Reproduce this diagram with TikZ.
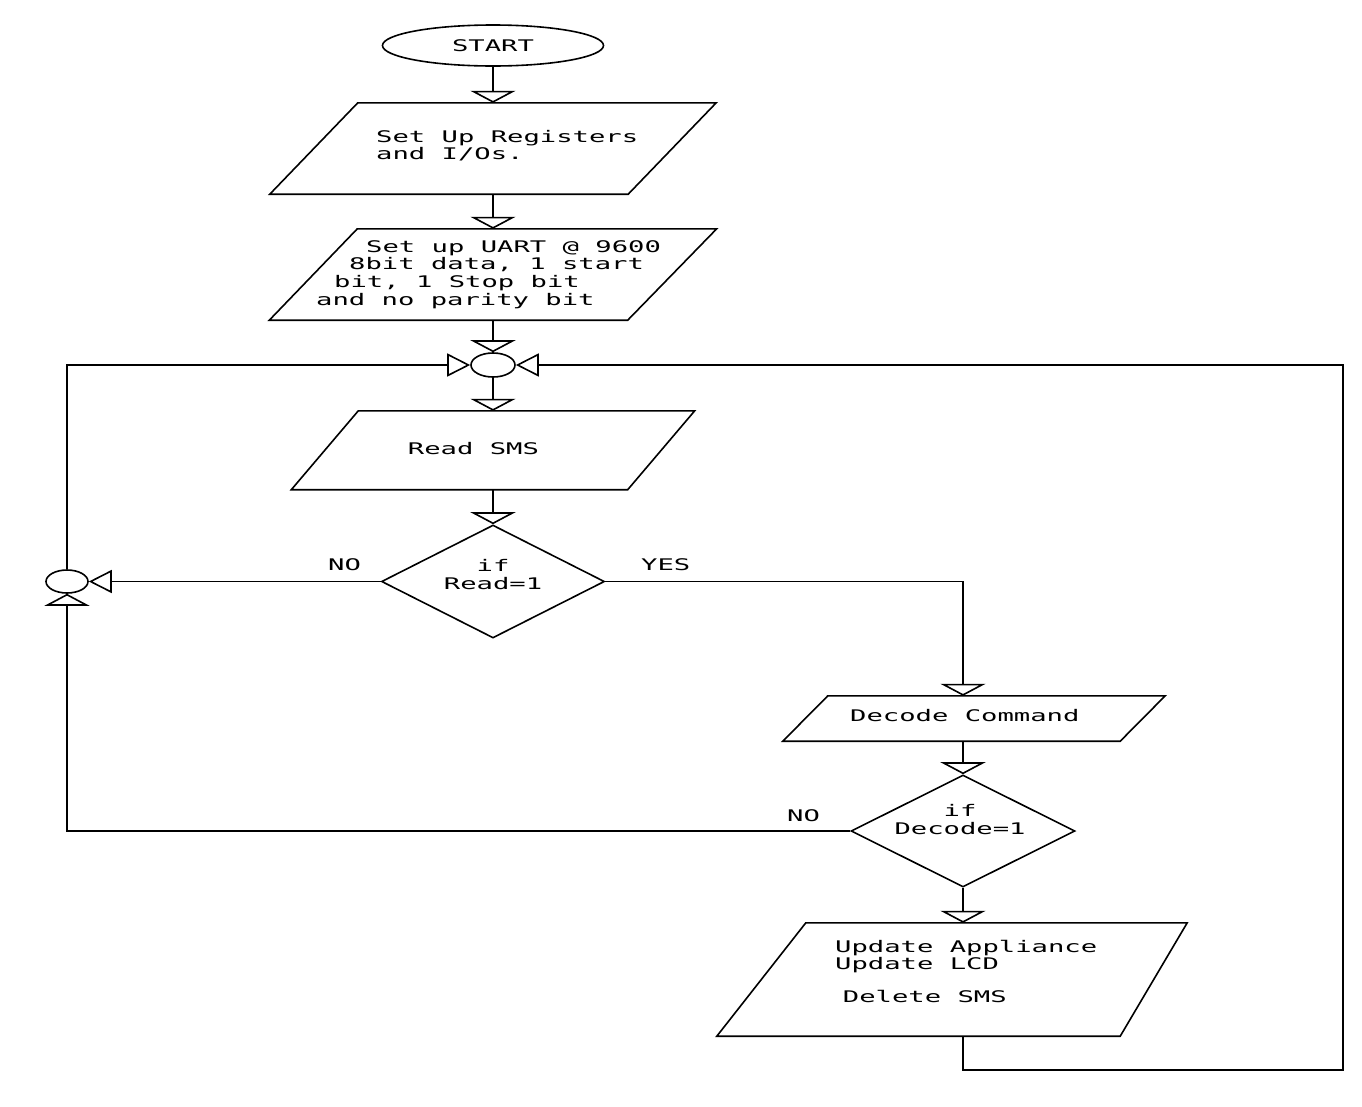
\documentclass[tikz,border=0pt]{standalone}
\usepackage{fontspec}
\usetikzlibrary{shapes.geometric,arrows.meta}
\newfontfamily\dmono{DejaVu Sans Mono}[FakeStretch=1.70]
\newcommand\leftlines[2]{\vtop{\baselineskip=#1\relax\halign{##\hfil\cr#2\crcr}}}
\newcommand\centerlines[2]{\vtop{\baselineskip=#1\relax\halign{\hfil##\hfil\cr#2\crcr}}}
\newcommand\paragon[3]{\draw[flow] ([xshift=#2]#1.north west) -- (#1.north east) -- ([xshift=-#3]#1.south east) -- (#1.south west) -- cycle;}
\begin{document}
\begin{tikzpicture}[x=1pt,y=-1pt,
  flow/.style={line width=1.6pt, black},
  varr/.style={-{Triangle[open,length=12pt,width=45pt]}},
  harr/.style={-{Triangle[open,length=23pt,width=23pt]}},
  box/.style={rectangle, inner sep=0pt, draw=none},
  txt/.style={inner sep=0pt, font=\dmono\fontsize{16pt}{17pt}\selectfont},
  startshape/.style={ellipse, draw, flow, inner sep=0pt, minimum width=221pt, minimum height=41pt, font=\dmono\fontsize{16pt}{17pt}\selectfont},
  decision/.style={diamond, draw, flow, inner sep=0pt},
  junction/.style={ellipse, draw, flow, inner sep=0pt, minimum width=44pt, minimum height=24pt}]
\fill[white] (0,0) rectangle (1362,1106);
\useasboundingbox (0,0) rectangle (1362,1106);

% shapes
\node[startshape] (start) at (493,45.5) {START};
\node[box, minimum width=446pt, minimum height=91pt] (p1) at (493,148.5) {};
\paragon{p1}{88}{88}
\node[box, minimum width=447pt, minimum height=91pt] (p2) at (493,274.5) {};
\paragon{p2}{88}{89}
\node[junction] (j1) at (493,365) {};
\node[box, minimum width=403pt, minimum height=78.5pt] (p3) at (493,450.25) {};
\paragon{p3}{67}{67}
\node[decision, minimum width=223pt, minimum height=113pt] (d1) at (493,581.5) {};
\node[junction, minimum width=42pt, minimum height=23pt] (j2) at (67,581.5) {};
\node[box, minimum width=382pt, minimum height=45pt] (p4) at (974,718.5) {};
\paragon{p4}{45}{45}
\node[decision, minimum width=224pt, minimum height=112pt] (d2) at (963,831) {};
\node[box, minimum width=470pt, minimum height=113pt] (p5) at (952,979.5) {};
\paragon{p5}{89}{67}
\coordinate (rc) at (1343,1070);

% texts
\node[txt, anchor=base west] (t1) at (376,142.7) {\leftlines{16.7pt}{Set Up Registers\cr and I/Os.}};
\node[txt, anchor=base west] (t2) at (316,252.3) {\leftlines{17.6pt}{\hspace*{50pt}Set up UART @ 9600\cr \hspace*{33pt}8bit data, 1 start\cr \hspace*{18pt}bit, 1 Stop bit\cr and no parity bit}};
\node[txt, anchor=base west] (t3) at (407.7,454) {Read SMS};
\node[txt, anchor=base] (t4) at (493,571) {\centerlines{18pt}{if\cr Read=1}};
\node[txt, anchor=base west] (no1) at (328,570) {NO};
\node[txt, anchor=base west] (yes) at (641,570) {YES};
\node[txt, anchor=base west] (t5) at (850,721.7) {Decode Command};
\node[txt, anchor=base] (t6) at (960,816.7) {\centerlines{17.3pt}{if\cr Decode=1}};
\node[txt, anchor=base west] (no2) at (787,821) {NO};
\node[txt, anchor=base west] (t7) at (835,952.7) {\leftlines{16.7pt}{Update Appliance\cr Update LCD\cr \cr \hspace*{7.7pt}Delete SMS}};

% connectors
\draw[flow,varr] (start) -- (p1);
\draw[flow,varr] (p1) -- (p2);
\draw[flow,varr] (p2) -- (j1);
\draw[flow,varr] (j1) -- (p3);
\draw[flow,varr] (p3) -- (d1);
\draw[flow,harr] (d1) -- (j2);
\draw[flow,varr] (d1.east) -| (p4.north -| d2.north);
\draw[flow,varr] (p4.south -| d2.north) -- (d2.north);
\draw[flow,varr] (d2.west) -| (j2.south);
\draw[flow,harr] (j2.north) |- (j1.west);
\draw[flow,varr] (d2.south) -- (p5.north -| d2.south);
\draw[flow,harr] (p5.south -| d2.south) |- (rc) |- (j1.east);
\end{tikzpicture}
\end{document}
